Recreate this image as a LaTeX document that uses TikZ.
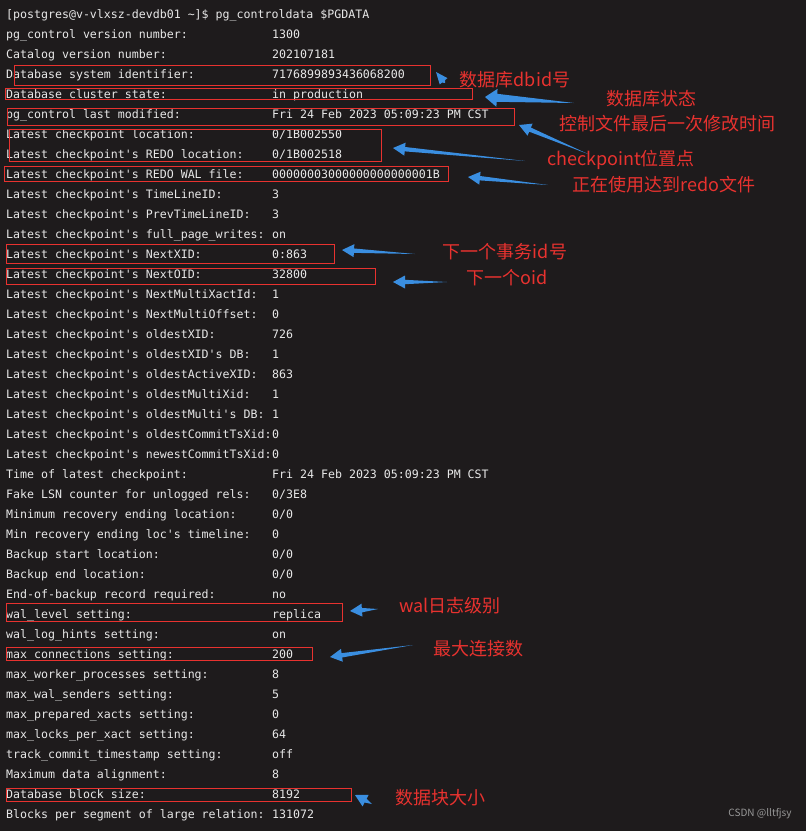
\documentclass[tikz,border=0pt]{standalone}
\usepackage{fontspec}
\usetikzlibrary{calc}
\newfontfamily\term{DejaVu Sans Mono}
\newfontfamily\cjk{Noto Sans CJK SC}
\definecolor{bg}{HTML}{1E1B1C}
\definecolor{fg}{HTML}{E8E8E8}
\definecolor{ared}{HTML}{E8322F}
\definecolor{ablue}{HTML}{3A8EE0}
\tikzset{
 tl/.style={anchor=base west,inner sep=0,text=fg,font=\term\fontsize{11.6}{12}\selectfont},
 note/.style={text=ared,inner sep=0,font=\cjk\fontsize{18}{19}\selectfont},
 hl/.style={draw=ared,line width=0.8pt},
}
\newcommand\tline[3]{%
 \node[tl] (l#1) at (6,{18+20*#1}) {#2};
 \node[tl] (v#1) at (272,{18+20*#1}) {#3};}
\newcommand\warrow[4]{%
 \coordinate (wh) at ($(#2)!12pt!(#1)$);
 \fill[ablue] (#1) -- ($(wh)!#3pt!90:(#2)$) -- ($(wh)!#4pt!90:(#2)$) -- (#2)
   -- ($(wh)!#4pt!-90:(#2)$) -- ($(wh)!#3pt!-90:(#2)$) -- cycle;}
\begin{document}
\begin{tikzpicture}[x=1pt,y=-1pt]
\fill[bg] (0,0) rectangle (806,831);
\useasboundingbox (0,0) rectangle (806,831);
\node[tl] (p) at (6,18) {[postgres@v-vlxsz-devdb01 \textasciitilde]\$ pg\_controldata \$PGDATA};
\tline{1}{pg\_control version number:}{1300}
\tline{2}{Catalog version number:}{202107181}
\tline{3}{Database system identifier:}{7176899893436068200}
\tline{4}{Database cluster state:}{in production}
\tline{5}{pg\_control last modified:}{Fri 24 Feb 2023 05:09:23 PM CST}
\tline{6}{Latest checkpoint location:}{0/1B002550}
\tline{7}{Latest checkpoint's REDO location:}{0/1B002518}
\tline{8}{Latest checkpoint's REDO WAL file:}{00000003000000000000001B}
\tline{9}{Latest checkpoint's TimeLineID:}{3}
\tline{10}{Latest checkpoint's PrevTimeLineID:}{3}
\tline{11}{Latest checkpoint's full\_page\_writes:}{on}
\tline{12}{Latest checkpoint's NextXID:}{0:863}
\tline{13}{Latest checkpoint's NextOID:}{32800}
\tline{14}{Latest checkpoint's NextMultiXactId:}{1}
\tline{15}{Latest checkpoint's NextMultiOffset:}{0}
\tline{16}{Latest checkpoint's oldestXID:}{726}
\tline{17}{Latest checkpoint's oldestXID's DB:}{1}
\tline{18}{Latest checkpoint's oldestActiveXID:}{863}
\tline{19}{Latest checkpoint's oldestMultiXid:}{1}
\tline{20}{Latest checkpoint's oldestMulti's DB:}{1}
\tline{21}{Latest checkpoint's oldestCommitTsXid:}{0}
\tline{22}{Latest checkpoint's newestCommitTsXid:}{0}
\tline{23}{Time of latest checkpoint:}{Fri 24 Feb 2023 05:09:23 PM CST}
\tline{24}{Fake LSN counter for unlogged rels:}{0/3E8}
\tline{25}{Minimum recovery ending location:}{0/0}
\tline{26}{Min recovery ending loc's timeline:}{0}
\tline{27}{Backup start location:}{0/0}
\tline{28}{Backup end location:}{0/0}
\tline{29}{End-of-backup record required:}{no}
\tline{30}{wal\_level setting:}{replica}
\tline{31}{wal\_log\_hints setting:}{on}
\tline{32}{max\_connections setting:}{200}
\tline{33}{max\_worker\_processes setting:}{8}
\tline{34}{max\_wal\_senders setting:}{5}
\tline{35}{max\_prepared\_xacts setting:}{0}
\tline{36}{max\_locks\_per\_xact setting:}{64}
\tline{37}{track\_commit\_timestamp setting:}{off}
\tline{38}{Maximum data alignment:}{8}
\tline{39}{Database block size:}{8192}
\tline{40}{Blocks per segment of large relation:}{131072}
% highlight boxes
\draw[hl] (14,65) rectangle (430,85);
\draw[hl] (5,88) rectangle (472,99);
\draw[hl] (7,108) rectangle (514,125);
\draw[hl] (9,129) rectangle (381,161);
\draw[hl] (4,166) rectangle (448,181);
\draw[hl] (6,244) rectangle (334,263);
\draw[hl] (6,268) rectangle (375,284);
\draw[hl] (6,603) rectangle (342,621);
\draw[hl] (6,647) rectangle (312,660);
\draw[hl] (6,788) rectangle (351,801);
% notes
\node[note] (n1) at (515,80) {数据库dbid号};
\node[note] (n2) at (651,99) {数据库状态};
\node[note] (n3) at (667,124) {控制文件最后一次修改时间};
\node[note] (n4) at (621,160) {checkpoint位置点};
\node[note] (n5) at (664,185) {正在使用达到redo文件};
\node[note] (n6) at (505,252) {下一个事务id号};
\node[note] (n7) at (507,278) {下一个oid};
\node[note] (n8) at (450,606) {wal日志级别};
\node[note] (n9) at (478,649) {最大连接数};
\node[note] (n10) at (440,798) {数据块大小};
\node[inner sep=0,text=gray!80,font=\cjk\fontsize{10}{11}\selectfont] (w) at (760,814) {CSDN @lltfjsy};
% arrows
\coordinate (t1) at (445,83); \coordinate (h1) at (436,72);
\coordinate (t2) at (574,103); \coordinate (h2) at (485,97);
\coordinate (t3) at (588,154); \coordinate (h3) at (519,125);
\coordinate (t4) at (525,161); \coordinate (h4) at (393,148);
\coordinate (t5) at (548,185); \coordinate (h5) at (468,177);
\coordinate (t6) at (415,254); \coordinate (h6) at (342,250);
\coordinate (t7) at (447,282); \coordinate (h7) at (393,282);
\coordinate (t8) at (378,609); \coordinate (h8) at (350,611);
\coordinate (t9) at (413,645); \coordinate (h9) at (330,657);
\coordinate (t10) at (372,804); \coordinate (h10) at (355,795);
\warrow{t1}{h1}{2}{5}
\warrow{t2}{h2}{4}{9}
\foreach \i in {3,...,10} {\warrow{t\i}{h\i}{2.2}{6.5}}
\end{tikzpicture}
\end{document}
